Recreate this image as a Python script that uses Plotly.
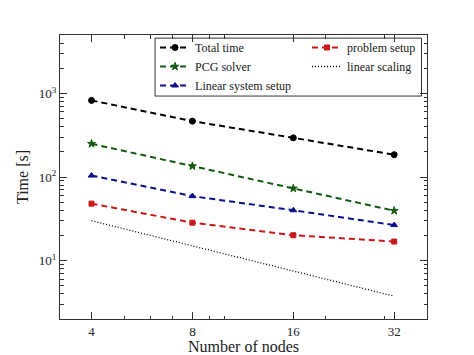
import plotly.graph_objects as go

nodes = [4, 8, 16, 32]
total_time = [825, 466, 294, 185]
pcg_solver = [250, 135, 73, 39.5]
linear_system_setup = [104, 59, 40, 26.6]
problem_setup = [48, 28.4, 20.1, 16.9]
linear_scaling = [30, 15, 7.5, 3.75]

y_tickvals = [10, 100, 1000]
y_ticktext = ["10<sup>1</sup>", "10<sup>2</sup>", "10<sup>3</sup>"]
x_tickvals = [4, 8, 16, 32]
x_ticktext = ["4", "8", "16", "32"]

FONT = "Liberation Serif"
TXT = "#222222"

fig = go.Figure()

def add(y, name, color, symbol, legend, dash="6px,4px", width=2, msize=6, mode="lines+markers"):
    fig.add_trace(go.Scatter(
        x=nodes, y=y, name=name, mode=mode, legend=legend,
        line=dict(color=color, dash=dash, width=width),
        marker=dict(color=color, symbol=symbol, size=msize,
                    line=dict(color=color, width=1)),
    ))

add(total_time, "Total time", "#000000", "circle", "legend", msize=6)
add(pcg_solver, "PCG solver", "#145a14", "star", "legend", msize=6)
add(linear_system_setup, "Linear system setup", "#0e0e8c", "triangle-up", "legend", msize=6)
add(problem_setup, "problem setup", "#c81818", "square", "legend2", msize=5)
add(linear_scaling, "linear scaling", "#000000", "circle", "legend2",
    dash="1px,2px", width=1.3, mode="lines")

axis_common = dict(
    showline=True, linecolor="#333333", linewidth=1, mirror="allticks",
    ticks="inside", ticklen=7, tickwidth=1, tickcolor="#333333",
    showgrid=False, zeroline=False,
    tickfont=dict(family=FONT, size=13, color=TXT),
    automargin=False,
)

fig.update_xaxes(
    type="log", range=[0.508, 1.603],
    tickvals=x_tickvals, ticktext=x_ticktext,
    title=dict(text="Number of nodes", font=dict(family=FONT, size=16, color=TXT), standoff=2),
    minor=dict(ticks="inside", ticklen=3.5, tickcolor="#333333", tickvals=[5, 6, 7, 9, 10, 20, 30]),
    **axis_common,
)
fig.update_yaxes(
    type="log", range=[0.301, 3.699],
    tickvals=y_tickvals, ticktext=y_ticktext,
    title=dict(text="Time [s]", font=dict(family=FONT, size=16, color=TXT), standoff=6),
    minor=dict(ticks="inside", ticklen=3.5, tickcolor="#333333", dtick="D1"),
    **axis_common,
)

legend_common = dict(
    orientation="v", yanchor="top", xanchor="left",
    borderwidth=0, bgcolor="rgba(0,0,0,0)",
    font=dict(family=FONT, size=12, color=TXT),
    itemwidth=30, tracegroupgap=0,
)

fig.update_layout(
    width=466, height=347,
    margin=dict(l=52, r=47, t=27, b=36),
    paper_bgcolor="white", plot_bgcolor="white",
    showlegend=True,
    legend=dict(x=0.259, y=1.007, **legend_common),
    legend2=dict(x=0.673, y=1.007, **legend_common),
    shapes=[dict(type="rect", xref="paper", yref="paper",
                 x0=0.259, x1=0.985, y0=0.785, y1=0.989,
                 line=dict(color="#333333", width=1), fillcolor="white", layer="below")],
)

fig.write_html("out.html")
